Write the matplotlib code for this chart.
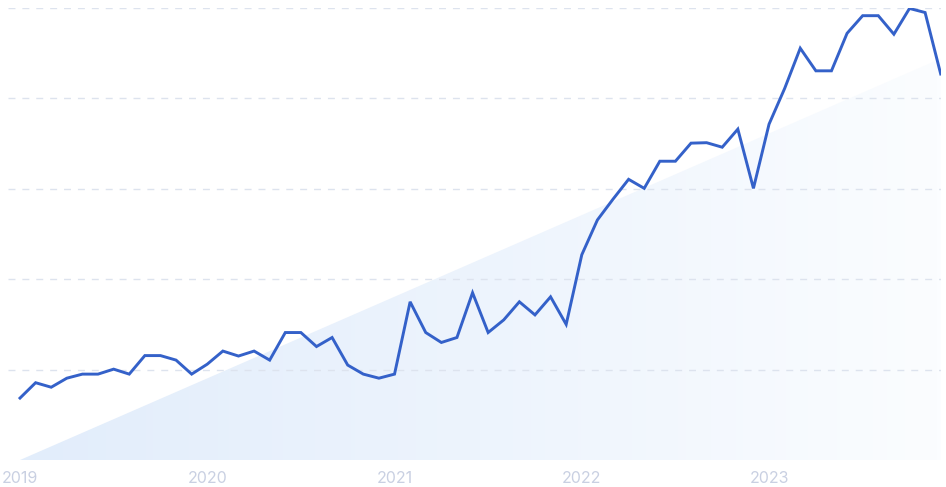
import numpy as np
import matplotlib
matplotlib.use("Agg")
import matplotlib.pyplot as plt
from matplotlib.patches import Polygon
from matplotlib.colors import LinearSegmentedColormap

plt.rcParams['font.family'] = ['Inter', 'DejaVu Sans']

# Monthly values, Jan 2019 .. Dec 2023 (relative scale 0-100)
values = [13.7, 17.1, 16.1, 18.1, 19.0, 19.0, 20.1, 19.0, 23.1, 23.1, 22.1, 19.0,
          21.2, 24.1, 23.0, 24.1, 22.1, 28.2, 28.2, 25.1, 27.1, 21.0, 19.0, 18.1,
          19.0, 35.0, 28.2, 26.0, 27.1, 37.0, 28.2, 31.0, 35.0, 32.1, 36.1, 30.0,
          45.4, 53.1, 57.7, 62.1, 60.1, 66.1, 66.1, 70.1, 70.2, 69.2, 73.2, 60.1,
          74.3, 82.2, 91.1, 86.1, 86.1, 94.4, 98.3, 98.3, 94.2, 99.9, 99.0, 85.4]
year_labels = ["2019", "2020", "2021", "2022", "2023"]
year_positions = [0, 12, 24, 36, 48]
grid_values = [20, 40, 60, 80, 100]
trend_end = 88.8  # top of the background wedge at the last month

W, H = 946, 487
fig = plt.figure(figsize=(W / 100, H / 100), dpi=100)
left_px, right_px, top_px, bot_px = 8, 941, 8, 460
ax = fig.add_axes([left_px / W, 1 - bot_px / H, (right_px - left_px) / W, (bot_px - top_px) / H])

n = len(values)
x = np.arange(n)
ppu = (940.7 - 20) / (n - 1)
ax.set_xlim(-(20 - left_px) / ppu, (n - 1) + (right_px - 940.7) / ppu)
ax.set_ylim(0, 100)

# gradient wedge
cmap = LinearSegmentedColormap.from_list("w", ["#e2edfb", "#edf4fd", "#fbfdff"])
grad = np.linspace(0, 1, 256).reshape(1, -1)
im = ax.imshow(grad, cmap=cmap, aspect='auto', extent=[0, n - 1, 0, trend_end],
               origin='lower', zorder=1)
tri = Polygon([[0, 0], [n - 1, trend_end], [n - 1, 0]], closed=True,
              transform=ax.transData, facecolor='none', edgecolor='none')
ax.add_patch(tri)
im.set_clip_path(tri)

for g in grid_values:
    ax.axhline(g, color='#dde3ee', lw=1.0, ls=(0, (5, 5)), zorder=2)

ax.plot(x, values, color='#3461c9', lw=2.1, zorder=3, solid_joinstyle='miter')

for s in ax.spines.values():
    s.set_visible(False)
ax.set_yticks([])
ax.set_xticks(year_positions)
ax.set_xticklabels(year_labels, fontsize=11.5, color='#c9d0e2')
ax.tick_params(axis='x', length=0, pad=8)

fig.savefig("out.png", dpi=100)
